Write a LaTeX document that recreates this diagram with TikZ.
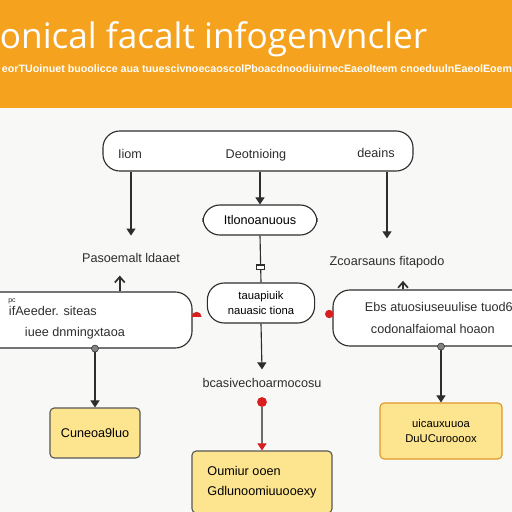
\documentclass[tikz,border=0pt]{standalone}
\usepackage{fontspec}
\setmainfont{Liberation Sans}
\newfontfamily\titlefont{Open Sans}
\usepackage{xcolor}
\usetikzlibrary{arrows.meta,positioning}

\definecolor{bandorange}{HTML}{F5A21E}
\definecolor{paper}{HTML}{F8F8F6}
\definecolor{inkgray}{HTML}{2E2E2E}
\definecolor{noteyellow}{HTML}{FCE58E}
\definecolor{noteedge}{HTML}{E0972A}
\definecolor{dotred}{HTML}{D81E1E}

\begin{document}
\begin{tikzpicture}[
  x=0.025cm, y=-0.025cm,
  font=\fontsize{9}{11}\selectfont,
  pill/.style={draw=inkgray, line width=0.8pt, rounded corners=12pt,
               fill=white, align=center, inner sep=0pt},
  note/.style={draw=inkgray!80, line width=0.8pt, rounded corners=3pt,
               fill=noteyellow, align=center, inner sep=0pt},
  arr/.style={-{Triangle[length=5pt, width=6.5pt]}, line width=0.8pt, draw=inkgray},
  uparr/.style={-{Straight Barb[length=4pt, width=7pt]}, line width=1.2pt, draw=inkgray},
  redarr/.style={-{Triangle[length=5pt, width=6.5pt, color=dotred]}, line width=0.8pt, draw=inkgray!70},
  lbl/.style={text=inkgray},
  rdot/.style={circle, fill=dotred, inner sep=0pt, minimum size=7pt},
  kdot/.style={circle, draw=inkgray, fill=inkgray!60, inner sep=0pt, minimum size=5pt},
]
\useasboundingbox (0,0) rectangle (512,512);
\fill[paper] (0,0) rectangle (512,512);

% header band
\fill[bandorange] (0,0) rectangle (512,108);
\node[anchor=west, text=white, font=\titlefont\fontsize{25}{29}\selectfont] (title) at (-5,39)
  {onical facalt infogenvncler};
\node[anchor=west, text=white, font=\bfseries\fontsize{7.6}{9}\selectfont] (subtitle) at (-3,69)
  {eorTUoinuet buoolicce aua tuuescivnoecaoscolPboacdnoodiuirnecEaeolteem cnoeduulnEaeolEoem};

% top row
\node[pill, minimum width=7.75cm, minimum height=1.0cm] (top) at (258,151) {};
\node[lbl] (tl) at (130,154) {Iiom};
\node[lbl] (tm) at (256,155) {Deotnioing};
\node[lbl] (tr) at (376,153) {deains};

\node[pill, minimum width=2.85cm, minimum height=0.75cm] (mid) at (260,220) {Itlonoanuous};

% side labels
\node[lbl] (lblL) at (131,258) {Pasoemalt ldaaet};
\node[lbl] (lblR) at (387,262) {Zcoarsauns fitapodo};

% second row
\node[pill, minimum width=5.2cm, minimum height=1.4cm] (lbox) at (88,320) {};
\node[lbl, anchor=west] (l1) at (4,311) {ifAeeder. siteas};
\node[lbl, anchor=west] (l2) at (20,333) {iuee dnmingxtaoa};
\node[lbl, font=\fontsize{5}{6}\selectfont] (l0) at (12,301) {pc};

\node[pill, minimum width=2.68cm, minimum height=1.0cm, font=\fontsize{8}{10}\selectfont] (mbox) at (261,303)
  {tauapiuik\\nauasic tiona};

\node[pill, minimum width=4.95cm, minimum height=1.4cm] (rbox) at (432,318) {};
\node[lbl, anchor=west] (r1) at (360,307) {Ebs atuosiuseuulise tuod6};
\node[lbl, anchor=west] (r2) at (366,329) {codonalfaiomal hoaon};

\node[lbl] (lblM) at (262,383) {bcasivechoarmocosu};

% bottom notes
\node[note, minimum width=2.25cm, minimum height=1.25cm] (nL) at (95,433) {Cuneoa9luo};
\node[note, minimum width=3.5cm, minimum height=1.55cm, align=left] (nM) at (262,482)
  {Oumiur ooen\\[3pt]Gdlunoomiuuooexy};
\node[note, draw=noteedge, minimum width=3.05cm, minimum height=1.4cm, font=\fontsize{8}{11}\selectfont] (nR) at (441,431)
  {uicauxuuoa\\DuUCuroooox};

% connectors
\draw[arr] (top.south -| lblL.north) -- ([yshift=0.32cm]lblL.north);
\draw[arr] (top.south -| lblR.north) -- ([yshift=0.32cm]lblR.north);
\draw[arr] (top.south -| mid.north) -- (mid.north);
\draw[line width=0.8pt, draw=inkgray] (mid.south) -- (mbox.north)
  node[pos=0.68, draw=inkgray, fill=white, inner sep=0pt, minimum width=0.2cm, minimum height=0.12cm] (tick) {};
\draw[arr] (mbox.south) -- ([yshift=0.1cm]lblM.north);

\draw[uparr] ([xshift=-0.28cm]lbox.north -| lblL.south) -- ([xshift=-0.28cm, yshift=-0.2cm]lblL.south);
\draw[uparr] ([xshift=0.4cm]rbox.north -| lblR.south) -- ([xshift=0.4cm, yshift=-0.2cm]lblR.south);

\node[kdot] (kL) at (lbox.south -| nL.north) {};
\draw[arr] (kL) -- (nL.north);
\node[kdot] (kR) at (rbox.south -| nR.north) {};
\draw[arr] (kR) -- (nR.north);

\node[rdot] (dM) at (262,402) {};
\draw[redarr] (dM) -- (nM.north);

\fill[dotred] ([yshift=0.08cm]lbox.east) ++(-1,0) arc (180:360:5);
\node[rdot, minimum size=6pt] (dR) at ([xshift=-0.08cm, yshift=0.1cm]rbox.west) {};
\end{tikzpicture}
\end{document}
